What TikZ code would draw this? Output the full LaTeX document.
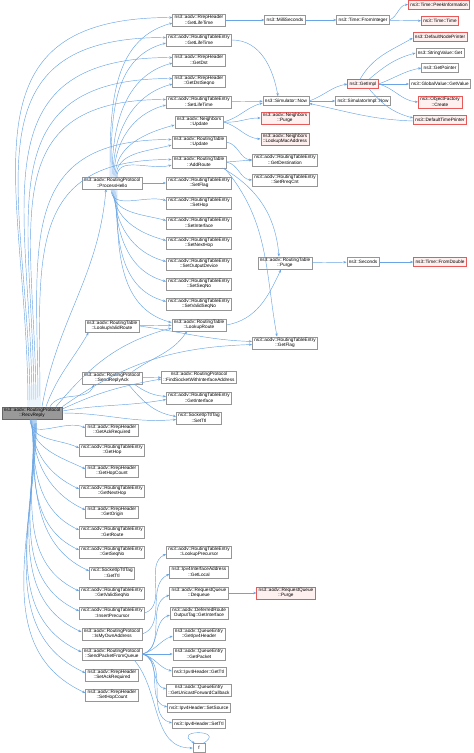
\documentclass[tikz,border=0pt]{standalone}
\usepackage{fontspec}
\setmainfont{Liberation Sans}
\usetikzlibrary{arrows.meta}
\definecolor{edgeblue}{RGB}{105,165,228}
\definecolor{boxgray}{RGB}{150,150,150}
\definecolor{redb}{RGB}{230,90,90}
\definecolor{redf}{RGB}{255,240,240}
\definecolor{rootf}{RGB}{153,153,153}
\definecolor{rootb}{RGB}{102,102,102}
\begin{document}
\begin{tikzpicture}[x=1pt,y=-1pt,
  box/.style={draw=boxgray, fill=white, line width=0.45pt, font=\fontsize{4.7}{5.4}\selectfont, align=center, inner xsep=2pt, inner ysep=1.3pt, minimum height=9pt, text=black},
  redbox/.style={box, draw=redb, fill=redf},
  rootbox/.style={box, draw=rootb, fill=rootf},
  edge/.style={draw=edgeblue, line width=0.45pt, -{Stealth[length=3.2pt,width=2.4pt]}},
]
\useasboundingbox (0,0) rectangle (474,753);

% root
\node[rootbox] (root) at (32,413) {ns3::aodv::RoutingProtocol\\::RecvReply};

% column 1
\node[box] (ph)   at (112,183) {ns3::aodv::RoutingProtocol\\::ProcessHello};
\node[box] (lvr)  at (112,326) {ns3::aodv::RoutingTable\\::LookupValidRoute};
\node[box] (sra)  at (112,378) {ns3::aodv::RoutingProtocol\\::SendReplyAck};
\node[box] (gar)  at (112,430) {ns3::aodv::RrepHeader\\::GetAckRequired};
\node[box] (gh)   at (112,450) {ns3::aodv::RoutingTableEntry\\::GetHop};
\node[box] (ghc)  at (112,471) {ns3::aodv::RrepHeader\\::GetHopCount};
\node[box] (gnh)  at (112,491) {ns3::aodv::RoutingTableEntry\\::GetNextHop};
\node[box] (gor)  at (112,512) {ns3::aodv::RrepHeader\\::GetOrigin};
\node[box] (gro)  at (112,532) {ns3::aodv::RoutingTableEntry\\::GetRoute};
\node[box] (gsn)  at (112,552) {ns3::aodv::RoutingTableEntry\\::GetSeqNo};
\node[box] (gttl) at (112,573) {ns3::SocketIpTtlTag\\::GetTtl};
\node[box] (gvsn) at (112,593) {ns3::aodv::RoutingTableEntry\\::GetValidSeqNo};
\node[box] (ip)   at (112,613) {ns3::aodv::RoutingTableEntry\\::InsertPrecursor};
\node[box] (imoa) at (112,634) {ns3::aodv::RoutingProtocol\\::IsMyOwnAddress};
\node[box] (spfq) at (112,654) {ns3::aodv::RoutingProtocol\\::SendPacketFromQueue};
\node[box] (sar)  at (112,675) {ns3::aodv::RrepHeader\\::SetAckRequired};
\node[box] (shc)  at (112,695) {ns3::aodv::RrepHeader\\::SetHopCount};

% column 2
\node[box] (rgl)  at (199,20)  {ns3::aodv::RrepHeader\\::GetLifeTime};
\node[box] (egl)  at (199,40)  {ns3::aodv::RoutingTableEntry\\::GetLifeTime};
\node[box] (gd)   at (199,60)  {ns3::aodv::RrepHeader\\::GetDst};
\node[box] (gds)  at (199,81)  {ns3::aodv::RrepHeader\\::GetDstSeqno};
\node[box] (esl)  at (199,102) {ns3::aodv::RoutingTableEntry\\::SetLifeTime};
\node[box] (nu)   at (199,122) {ns3::aodv::Neighbors\\::Update};
\node[box] (tu)   at (199,142) {ns3::aodv::RoutingTable\\::Update};
\node[box] (ar)   at (199,162) {ns3::aodv::RoutingTable\\::AddRoute};
\node[box] (sf)   at (199,183) {ns3::aodv::RoutingTableEntry\\::SetFlag};
\node[box] (sh)   at (199,203) {ns3::aodv::RoutingTableEntry\\::SetHop};
\node[box] (si)   at (199,223) {ns3::aodv::RoutingTableEntry\\::SetInterface};
\node[box] (snh)  at (199,243) {ns3::aodv::RoutingTableEntry\\::SetNextHop};
\node[box] (sod)  at (199,264) {ns3::aodv::RoutingTableEntry\\::SetOutputDevice};
\node[box] (ssn)  at (199,284) {ns3::aodv::RoutingTableEntry\\::SetSeqNo};
\node[box] (svs)  at (199,304) {ns3::aodv::RoutingTableEntry\\::SetValidSeqNo};
\node[box] (lr)   at (199,325) {ns3::aodv::RoutingTable\\::LookupRoute};
\node[box] (fs)   at (199,377) {ns3::aodv::RoutingProtocol\\::FindSocketWithInterfaceAddress};
\node[box] (egi)  at (199,398) {ns3::aodv::RoutingTableEntry\\::GetInterface};
\node[box] (sttl) at (199,418) {ns3::SocketIpTtlTag\\::SetTtl};
\node[box] (lp)   at (199,552) {ns3::aodv::RoutingTableEntry\\::LookupPrecursor};
\node[box] (gl)   at (199,572) {ns3::Ipv4InterfaceAddress\\::GetLocal};
\node[box] (dq)   at (199,593) {ns3::aodv::RequestQueue\\::Dequeue};
\node[box] (dro)  at (199,613) {ns3::aodv::DeferredRoute\\OutputTag::GetInterface};
\node[box] (gih)  at (199,634) {ns3::aodv::QueueEntry\\::GetIpv4Header};
\node[box] (gp)   at (199,654) {ns3::aodv::QueueEntry\\::GetPacket};
\node[box] (hgt)  at (199,672) {ns3::Ipv4Header::GetTtl};
\node[box] (guf)  at (199,690) {ns3::aodv::QueueEntry\\::GetUnicastForwardCallback};
\node[box] (hss)  at (199,708) {ns3::Ipv4Header::SetSource};
\node[box] (hst)  at (199,724) {ns3::Ipv4Header::SetTtl};
\node[box, minimum width=12pt] (f) at (199,748) {f};

% column 3
\node[box] (ms)   at (285,20)  {ns3::MilliSeconds};
\node[box] (sn)   at (286,101) {ns3::Simulator::Now};
\node[redbox] (np)  at (285,118) {ns3::aodv::Neighbors\\::Purge};
\node[redbox] (nlm) at (285,139) {ns3::aodv::Neighbors\\::LookupMacAddress};
\node[box] (egd)  at (285,160) {ns3::aodv::RoutingTableEntry\\::GetDestination};
\node[box] (src)  at (285,180) {ns3::aodv::RoutingTableEntry\\::SetRreqCnt};
\node[box] (tp)   at (285,263) {ns3::aodv::RoutingTable\\::Purge};
\node[box] (egf)  at (285,343) {ns3::aodv::RoutingTableEntry\\::GetFlag};
\node[redbox] (rqp) at (286,593) {ns3::aodv::RequestQueue\\::Purge};

% column 4
\node[box] (fi)   at (363,20)  {ns3::Time::FromInteger};
\node[redbox] (gi) at (363,84) {ns3::GetImpl};
\node[box] (sin)  at (363,101) {ns3::SimulatorImpl::Now};
\node[box] (sec)  at (363,262) {ns3::Seconds};

% column 5
\node[redbox] (pi)  at (439,4.5) {ns3::Time::PeekInformation};
\node[redbox] (tt)  at (440,21)  {ns3::Time::Time};
\node[redbox] (dnp) at (440,37)  {ns3::DefaultNodePrinter};
\node[box]    (svg) at (440,53)  {ns3::StringValue::Get};
\node[box]    (gptr) at (440,68) {ns3::GetPointer};
\node[box]    (gvg) at (440,84)  {ns3::GlobalValue::GetValue};
\node[redbox] (ofc) at (440,102) {ns3::ObjectFactory\\::Create};
\node[redbox] (dtp) at (440,120) {ns3::DefaultTimePrinter};
\node[redbox] (fd)  at (440,262) {ns3::Time::FromDouble};

% ---------- edges ----------
% RecvReply upward (long arcs)
\foreach \t/\s in {rgl/-4,egl/-2,gd/0,gds/2,esl/4,tu/6,ar/8}
  \draw[edge] ([xshift=\s pt]root.north) to[out=90,in=180,looseness=1.35] ([yshift=2.5pt]\t.west);
\draw[edge] ([xshift=10pt]root.north) to[out=80,in=-95] ([xshift=-6pt]ph.south);
\draw[edge] ([xshift=14pt]root.north) to[out=70,in=-120] ([xshift=4pt]lvr.south west);
\draw[edge] ([xshift=18pt]root.north) to[out=60,in=-110] ([xshift=-18pt]sra.south);
\draw[edge] ([xshift=24pt]root.north) to[out=50,in=195] ([yshift=-3pt]lr.west);
\draw[edge] (root.north east) to[out=35,in=182] ([yshift=-1.5pt]egf.west);
\draw[edge] ([yshift=4pt]root.east) to[out=25,in=190] ([yshift=-2pt]fs.west);
\draw[edge] ([yshift=2pt]root.east) to[out=10,in=190] ([yshift=-1.5pt]egi.west);
\draw[edge] (root.east) to[out=0,in=185] ([yshift=-1.5pt]sttl.west);

% RecvReply downward
\foreach \t/\s in {gar/-2,gh/-1.5,ghc/-1,gnh/-0.5,gor/0,gro/0.5,gsn/1,gttl/1.5,gvsn/2,ip/2.5,imoa/3,spfq/3.5,sar/4,shc/4.5}
  \draw[edge] ([xshift=\s pt]root.south) to[out=-90,in=155] ([yshift=2pt]\t.west);

% ProcessHello
\foreach \t/\s in {rgl/-2,egl/-1,gd/0,gds/1,esl/2,nu/3,tu/4,ar/5}
  \draw[edge] ([xshift=\s pt]ph.north) to[out=90,in=195] ([yshift=-3pt]\t.west);
\draw[edge] (ph) -- (sf);
\foreach \t/\s in {sh/-1,si/0,snh/1,sod/2,ssn/3,svs/4,lr/5}
  \draw[edge] ([xshift=\s pt]ph.south) to[out=-90,in=165] ([yshift=2.5pt]\t.west);

% upper right part
\draw[edge] (rgl) -- (ms);
\draw[edge] (ms) -- (fi);
\draw[edge] (fi.east) to[out=25,in=185] (pi.west);
\draw[edge] (fi) -- (tt);
\draw[edge] (egl.east) to[out=0,in=100] ([xshift=-8pt]sn.north);
\draw[edge] (esl) -- (sn);
\draw[edge] (nu.east) to[out=15,in=195] ([yshift=-2pt]sn.west);
\draw[edge] (nu.east) to[out=-5,in=180] (np.west);
\draw[edge] (nu.east) to[out=-15,in=175] (nlm.west);
\draw[edge] (tu.east) to[out=-10,in=175] (egd.west);
\draw[edge] (ar.east) -- (egd.west);
\draw[edge] (ar.east) to[out=-10,in=175] (src.west);
\draw[edge] ([xshift=-4pt]ar.south east) to[out=-30,in=95] ([xshift=-6pt]tp.north);
\draw[edge] ([xshift=-2pt]ar.south east) to[out=-50,in=100] ([xshift=-8pt]egf.north);
\draw[edge] (lr.east) to[out=10,in=-115] ([xshift=-4pt]tp.south);
\draw[edge] (tp) -- (sec);
\draw[edge] (sec) -- (fd);
\draw[edge] (sn.east) to[out=20,in=190] (gi.west);
\draw[edge] (sn) -- (sin);
\draw[edge] ([yshift=-1pt]dtp.west) to[out=178,in=-12] ([yshift=-2.5pt]sn.east);
\draw[edge] ([xshift=-3pt]gi.north) to[out=60,in=210] ([yshift=-1pt]dnp.west);
\draw[edge] ([xshift=6pt]gi.north) to[out=40,in=195] (svg.west);
\draw[edge] (gi.east) to[out=20,in=190] (gptr.west);
\draw[edge] (gi) -- (gvg);
\draw[edge] (gi.east) to[out=-15,in=175] (ofc.west);
\draw[edge] ([xshift=6pt]gi.south) to[out=-50,in=165] ([yshift=2pt]dtp.west);

% middle part
\draw[edge] (lvr) -- (lr);
\draw[edge] (lvr.east) to[out=-8,in=178] ([yshift=1.5pt]egf.west);
\draw[edge] ([xshift=-10pt]sra.north east) to[out=35,in=-125] ([xshift=-12pt]lr.south);
\draw[edge] (sra) -- (fs);
\draw[edge] ([xshift=-8pt]sra.south east) to[out=-35,in=175] ([yshift=1.5pt]egi.west);
\draw[edge] ([xshift=-14pt]sra.south east) to[out=-50,in=170] ([yshift=1.5pt]sttl.west);

% lower part
\draw[edge] (ip.east) to[out=20,in=205] ([yshift=-2pt]lp.west);
\draw[edge] (imoa.east) to[out=20,in=205] ([yshift=-2pt]gl.west);
\foreach \t in {dq,dro,gih}
  \draw[edge] (spfq.east) to[out=15,in=200] ([yshift=-2pt]\t.west);
\draw[edge] (spfq) -- (gp);
\foreach \t in {hgt,guf,hss,hst}
  \draw[edge] (spfq.east) to[out=-15,in=165] ([yshift=1pt]\t.west);
\draw[edge] ([xshift=-8pt]spfq.south east) to[out=-50,in=180] (f.west);
\draw[edge] (dq) -- (rqp);
\draw[edge] ([xshift=-2pt]f.north east) .. controls +(24,-14) and +(-24,-14) .. ([xshift=2pt]f.north west);
\end{tikzpicture}
\end{document}
